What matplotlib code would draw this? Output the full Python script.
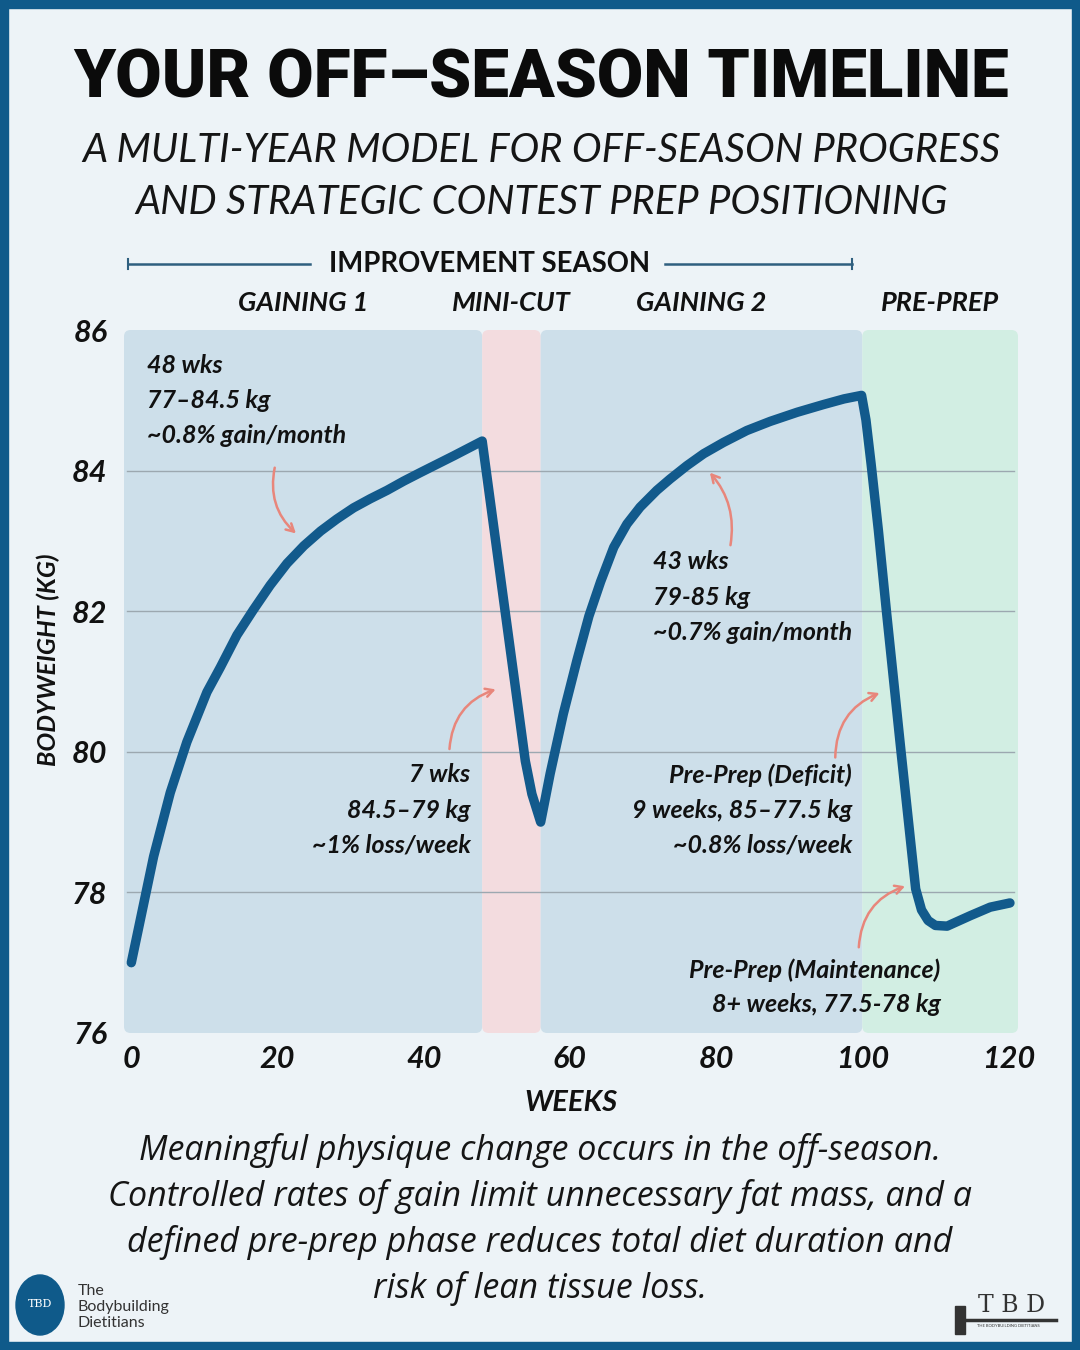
import matplotlib
matplotlib.use("Agg")
import matplotlib.pyplot as plt
from matplotlib.patches import FancyBboxPatch, Rectangle, Circle
from matplotlib.lines import Line2D

# bodyweight curve (week, kg)
weeks = [0, 3.05, 5.33, 7.6, 10.35, 12.17, 14.45, 16.7, 19.0, 21.3, 23.6, 25.9,
         28.1, 30.4, 32.7, 35.0, 37.25, 39.5, 41.8, 44.1, 48,
         50.9, 52.5, 53.9, 54.8, 56,
         57.3, 59.1, 60.96, 62.6, 64.2, 66.0, 67.8, 69.6, 71.9, 73.7, 76.0, 78.3,
         81.0, 84.2, 87.4, 91.1, 94.7, 97.5, 99.9,
         100.5, 101.2, 102.2, 103.3, 105.3, 107.3, 108.1, 109.0, 110.0, 111.6,
         114.8, 117.5, 120.2]
bodyweight = [77.0, 78.51, 79.42, 80.14, 80.85, 81.2, 81.66, 82.02, 82.37, 82.68,
              82.93, 83.14, 83.31, 83.47, 83.6, 83.72, 83.85, 83.97, 84.09, 84.21,
              84.42,
              82.18, 80.95, 79.87, 79.4, 79.0,
              79.69, 80.54, 81.3, 81.93, 82.42, 82.91, 83.24, 83.48, 83.72, 83.88,
              84.07, 84.24, 84.4, 84.57, 84.7, 84.83, 84.94, 85.02, 85.07,
              84.72, 84.1, 83.15, 82.0, 80.0, 78.05, 77.75, 77.6, 77.53, 77.52,
              77.67, 77.79, 77.85]

phase_names = ["GAINING 1", "MINI-CUT", "GAINING 2", "PRE-PREP"]
phase_starts = [-1, 48, 56, 100]
phase_ends = [48, 56, 100, 121.3]
phase_colors = ["#cddfea", "#f3dcdf", "#cddfea", "#d2eee3"]

x_ticks = [0, 20, 40, 60, 80, 100, 120]
y_ticks = [76, 78, 80, 82, 84, 86]
grid_levels = [78, 80, 82, 84]

note_gain1 = ["48 wks", "77–84.5 kg", "~0.8% gain/month"]
note_cut = ["7 wks", "84.5–79 kg", "~1% loss/week"]
note_gain2 = ["43 wks", "79-85 kg", "~0.7% gain/month"]
note_deficit = ["Pre-Prep (Deficit)", "9 weeks, 85–77.5 kg", "~0.8% loss/week"]
note_maint = ["Pre-Prep (Maintenance)", "8+ weeks, 77.5-78 kg"]

title = "YOUR OFF–SEASON TIMELINE"
subtitle = ["A MULTI-YEAR MODEL FOR OFF-SEASON PROGRESS",
            "AND STRATEGIC CONTEST PREP POSITIONING"]
footer = ["Meaningful physique change occurs in the off-season.",
          "Controlled rates of gain limit unnecessary fat mass, and a",
          "defined pre-prep phase reduces total diet duration and",
          "risk of lean tissue loss."]

W, H = 1080, 1350
BG = "#edf3f7"
NAVY = "#0f5a8a"
LINE = "#125a8c"
ARROW = "#e8867b"
FONT = "Lato"


def fx(px):
    return px / W


def fy(py):
    return 1 - py / H


fig = plt.figure(figsize=(W / 100, H / 100), dpi=100, facecolor=BG)

# frame
for r in [(0, 0, 1, 8 / H), (0, 1 - 8 / H, 1, 8 / H), (0, 0, 8 / W, 1), (1 - 8 / W, 0, 8 / W, 1)]:
    fig.patches.append(Rectangle(r[:2], r[2], r[3], transform=fig.transFigure,
                                 color=NAVY, zorder=10))

# header texts
fig.text(fx(541), fy(79), title, ha="center", va="center", fontsize=48.5,
         fontweight="black", family="Roboto", color="#0b0b0b")
for i, line in enumerate(subtitle):
    fig.text(fx(541), fy(150 + 52 * i), line, ha="center", va="center",
             fontsize=28.7, fontstyle="italic", family=FONT, color="#151515")

fig.text(fx(490), fy(264), "IMPROVEMENT SEASON", ha="center", va="center",
         fontsize=19.8, fontweight="bold", family=FONT, color="#111")
for x0, x1, cap in [(128, 310, 128), (665, 852, 852)]:
    fig.add_artist(Line2D([fx(x0), fx(x1)], [fy(264), fy(264)], color="#2f5f7f", lw=1.8))
    fig.add_artist(Line2D([fx(cap), fx(cap)], [fy(259), fy(269)], color="#2f5f7f", lw=1.5))

ax = fig.add_axes([fx(124), fy(1033), 894 / W, 703 / H])
ax.patch.set_alpha(0)
ax.set_xlim(-1, 121.3)
ax.set_ylim(76, 86)
for s in ax.spines.values():
    s.set_visible(False)

for name, x0, x1, c in zip(phase_names, phase_starts, phase_ends, phase_colors):
    ax.add_patch(FancyBboxPatch((x0, 76), x1 - x0, 10,
                                boxstyle="round,pad=0,rounding_size=0.9",
                                mutation_aspect=0.104, fc=c, ec="none", zorder=0))
    ax.text((x0 + x1) / 2, 86.38, name, ha="center", va="center", fontsize=19.5,
            fontweight="bold", fontstyle="italic", family=FONT, color="#111",
            clip_on=False)

for g in grid_levels:
    ax.plot([-0.6, 120.8], [g, g], color="#9ca8b0", lw=1.0, zorder=1)

ax.plot(weeks, bodyweight, color=LINE, lw=6.8, solid_joinstyle="round",
        solid_capstyle="round", zorder=3)

ax.set_xticks(x_ticks)
ax.set_yticks(y_ticks)
ax.tick_params(length=0, labelsize=22)
ax.tick_params(axis="x", pad=9)
ax.tick_params(axis="y", pad=12)
for lab in ax.get_xticklabels() + ax.get_yticklabels():
    lab.set_family(FONT)
    lab.set_fontweight("bold")
    lab.set_fontstyle("italic")
    lab.set_color("#111")

ax.set_xlabel("WEEKS", fontsize=21, fontweight="bold", fontstyle="italic",
              family=FONT, color="#111", labelpad=12)
fig.text(fx(48), fy(660), "BODYWEIGHT (KG)", rotation=90, ha="center", va="center",
         fontsize=18, fontweight="bold", fontstyle="italic", family=FONT, color="#111")


def note(lines, x, y_top, ha):
    for i, line in enumerate(lines):
        ax.text(x, y_top - 0.5 * i, line, ha=ha, va="center", fontsize=18,
                fontweight="bold", fontstyle="italic", family=FONT, color="#111",
                zorder=4)


note(note_gain1, 2.2, 85.5, "left")
note(note_cut, 46.4, 79.67, "right")
note(note_gain2, 71.4, 82.7, "left")
note(note_deficit, 98.6, 79.67, "right")
note(note_maint, 110.7, 76.9, "right")

arrow_kw = dict(arrowstyle="->,head_length=0.55,head_width=0.3", color=ARROW, lw=1.8)
for start, end, rad in [((19.7, 84.08), (22.8, 83.08), 0.3),
                        ((43.5, 80.0), (50.2, 80.9), -0.35),
                        ((81.9, 82.9), (78.9, 84.0), 0.25),
                        ((96.3, 79.88), (102.7, 80.85), -0.35),
                        ((99.5, 77.18), (106.2, 78.1), -0.35)]:
    ax.annotate("", xy=end, xytext=start,
                arrowprops=dict(connectionstyle=f"arc3,rad={rad}", **arrow_kw),
                zorder=4)

# footer
for i, line in enumerate(footer):
    fig.text(fx(540), fy(1151 + 45.7 * i), line, ha="center", va="center",
             fontsize=24.5, fontstyle="italic", family="Open Sans", color="#151515")

# left logo
fig.patches.append(Circle((fx(40), fy(1305)), 24 / W, transform=fig.transFigure,
                          color=NAVY, zorder=5))
fig.text(fx(40), fy(1304), "TBD", ha="center", va="center", fontsize=8,
         family="DejaVu Serif", color="white", zorder=6)
for i, w in enumerate(["The", "Bodybuilding", "Dietitians"]):
    fig.text(fx(78), fy(1291 + 16 * i), w, ha="left", va="center", fontsize=11.5,
             family=FONT, color="#333")

# right logo
fig.text(fx(1012), fy(1306), "T B D", ha="center", va="center", fontsize=17,
         family="DejaVu Serif", color="#333")
fig.add_artist(Line2D([fx(962), fx(1056)], [fy(1320), fy(1320)], color="#333", lw=2.5))
fig.patches.append(Rectangle((fx(955), fy(1334)), 10 / W, 28 / H,
                             transform=fig.transFigure, color="#333"))
fig.text(fx(1008), fy(1326), "THE BODYBUILDING DIETITIANS", ha="center", va="center",
         fontsize=3, family=FONT, color="#333")

fig.savefig("out.png", dpi=100, facecolor=BG)
